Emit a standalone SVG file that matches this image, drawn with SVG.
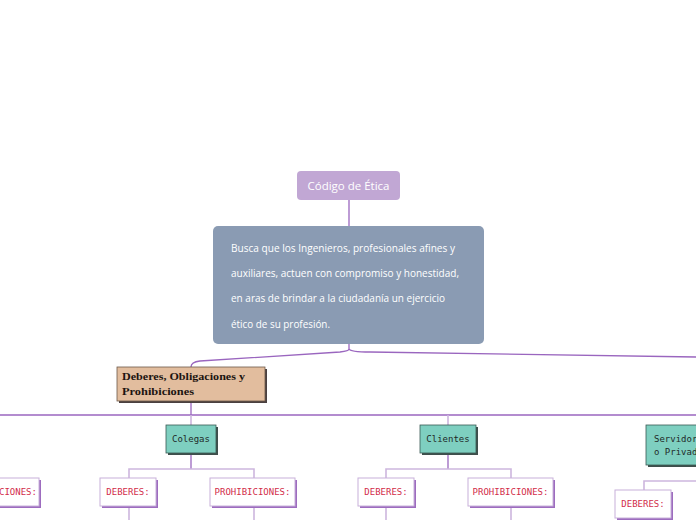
<svg xmlns="http://www.w3.org/2000/svg" width="696" height="520" viewBox="0 0 696 520">
<defs>
<style>
.main{stroke:#9a66bf;stroke-width:1.3;fill:none}
.sub{stroke:#cdb6de;stroke-width:1.6;fill:none}
.wbox{fill:#ffffff;stroke:#c8b0da;stroke-width:1}
.wsh{fill:#9d6cbf}
.tbox{fill:#7ecfc0;stroke:#3b5a54;stroke-width:0.8}
.tsh{fill:#3f4f4c}
.red{font-family:"DejaVu Sans Mono","Liberation Mono",monospace;font-size:9px;fill:#d22d4a}
.blk{font-family:"DejaVu Sans Mono","Liberation Mono",monospace;font-size:9px;fill:#1e2a28}
.wt{font-family:"Open Sans","Liberation Sans",sans-serif;fill:#ffffff}
</style>
</defs>
<rect width="696" height="520" fill="#ffffff"/>
<g id="connectors">
<path class="main" d="M349 200 V226"/>
<path class="main" d="M349 344 V349 Q349 351 340 352 L200 361 Q191 362 191 367"/>
<path class="main" d="M349 349 Q350 352 370 352 L696 357"/>
<path class="main" d="M191 401 V415"/>
<path class="main" d="M0 415 H696" stroke-width="1.6"/>
<path class="sub" d="M191 415 V425 M448 415 V425"/>
<path class="main" d="M191 453 V469"/>
<path class="sub" d="M129 478 V469 H254 V478"/>
<path class="sub" d="M129 506 V520 M254 506 V520"/>
<path class="main" d="M448 453 V469"/>
<path class="sub" d="M386 478 V469 H511 V478"/>
<path class="sub" d="M386 506 V520 M511 506 V520"/>
<path class="sub" d="M644 490 V481 H696"/>
</g>
<g id="codigo">
<rect x="297" y="171" width="103" height="29" rx="4" fill="#c1a7d4"/>
<text class="wt" x="348.5" y="190" font-size="11.5" text-anchor="middle">Código de Ética</text>
</g>
<g id="descripcion">
<rect x="213" y="226" width="271" height="118" rx="5" fill="#8a9bb3"/>
<text class="wt" font-size="10" x="231" y="252" textLength="224" lengthAdjust="spacingAndGlyphs">Busca que los Ingenieros, profesionales afines y</text>
<text class="wt" font-size="10" x="231" y="277" textLength="228" lengthAdjust="spacingAndGlyphs">auxiliares, actuen con compromiso y honestidad,</text>
<text class="wt" font-size="10" x="231" y="302" textLength="214" lengthAdjust="spacingAndGlyphs">en aras de brindar a la ciudadanía un ejercicio</text>
<text class="wt" font-size="10" x="231" y="328" textLength="99" lengthAdjust="spacingAndGlyphs">ético de su profesión.</text>
</g>
<g id="deberes-obligaciones">
<rect x="119" y="369" width="148" height="34" fill="#4a4040"/>
<rect x="117" y="367" width="148" height="34" fill="#e2bd9e" stroke="#6e5a4a" stroke-width="0.8"/>
<text font-family="Liberation Serif,serif" font-weight="bold" font-size="11" fill="#1c1410"><tspan x="122" y="380" textLength="123" lengthAdjust="spacingAndGlyphs">Deberes, Obligaciones y</tspan><tspan x="122" y="395" textLength="72" lengthAdjust="spacingAndGlyphs">Prohibiciones</tspan></text>
</g>
<g id="colegas">
<rect x="168" y="427" width="50" height="28" class="tsh"/>
<rect x="166" y="425" width="50" height="28" class="tbox"/>
<text class="blk" x="191" y="442" text-anchor="middle">Colegas</text>
</g>
<g id="clientes">
<rect x="422" y="427" width="56" height="28" class="tsh"/>
<rect x="420" y="425" width="56" height="28" class="tbox"/>
<text class="blk" x="448" y="442" text-anchor="middle">Clientes</text>
</g>
<g id="servidores">
<rect x="648" y="427" width="60" height="40" class="tsh"/>
<rect x="646" y="425" width="60" height="40" class="tbox"/>
<text class="blk"><tspan x="654" y="442">Servidores</tspan><tspan x="654" y="455">o Privados</tspan></text>
</g>
<g id="prohibiciones-izq">
<rect x="-40" y="480" width="81" height="28" class="wsh"/>
<rect x="-42" y="478" width="81" height="28" class="wbox"/>
<text class="red" x="-1" y="495" text-anchor="middle">PROHIBICIONES:</text>
</g>
<g id="colegas-deberes">
<rect x="102" y="480" width="56" height="28" class="wsh"/>
<rect x="100" y="478" width="56" height="28" class="wbox"/>
<text class="red" x="128" y="495" text-anchor="middle">DEBERES:</text>
</g>
<g id="colegas-prohibiciones">
<rect x="212" y="480" width="85" height="28" class="wsh"/>
<rect x="210" y="478" width="85" height="28" class="wbox"/>
<text class="red" x="252.5" y="495" text-anchor="middle">PROHIBICIONES:</text>
</g>
<g id="clientes-deberes">
<rect x="360" y="480" width="56" height="28" class="wsh"/>
<rect x="358" y="478" width="56" height="28" class="wbox"/>
<text class="red" x="386" y="495" text-anchor="middle">DEBERES:</text>
</g>
<g id="clientes-prohibiciones">
<rect x="470" y="480" width="85" height="28" class="wsh"/>
<rect x="468" y="478" width="85" height="28" class="wbox"/>
<text class="red" x="510.5" y="495" text-anchor="middle">PROHIBICIONES:</text>
</g>
<g id="servidores-deberes">
<rect x="617" y="492" width="56" height="28" class="wsh"/>
<rect x="615" y="490" width="56" height="28" class="wbox"/>
<text class="red" x="643" y="507" text-anchor="middle">DEBERES:</text>
</g>
</svg>
